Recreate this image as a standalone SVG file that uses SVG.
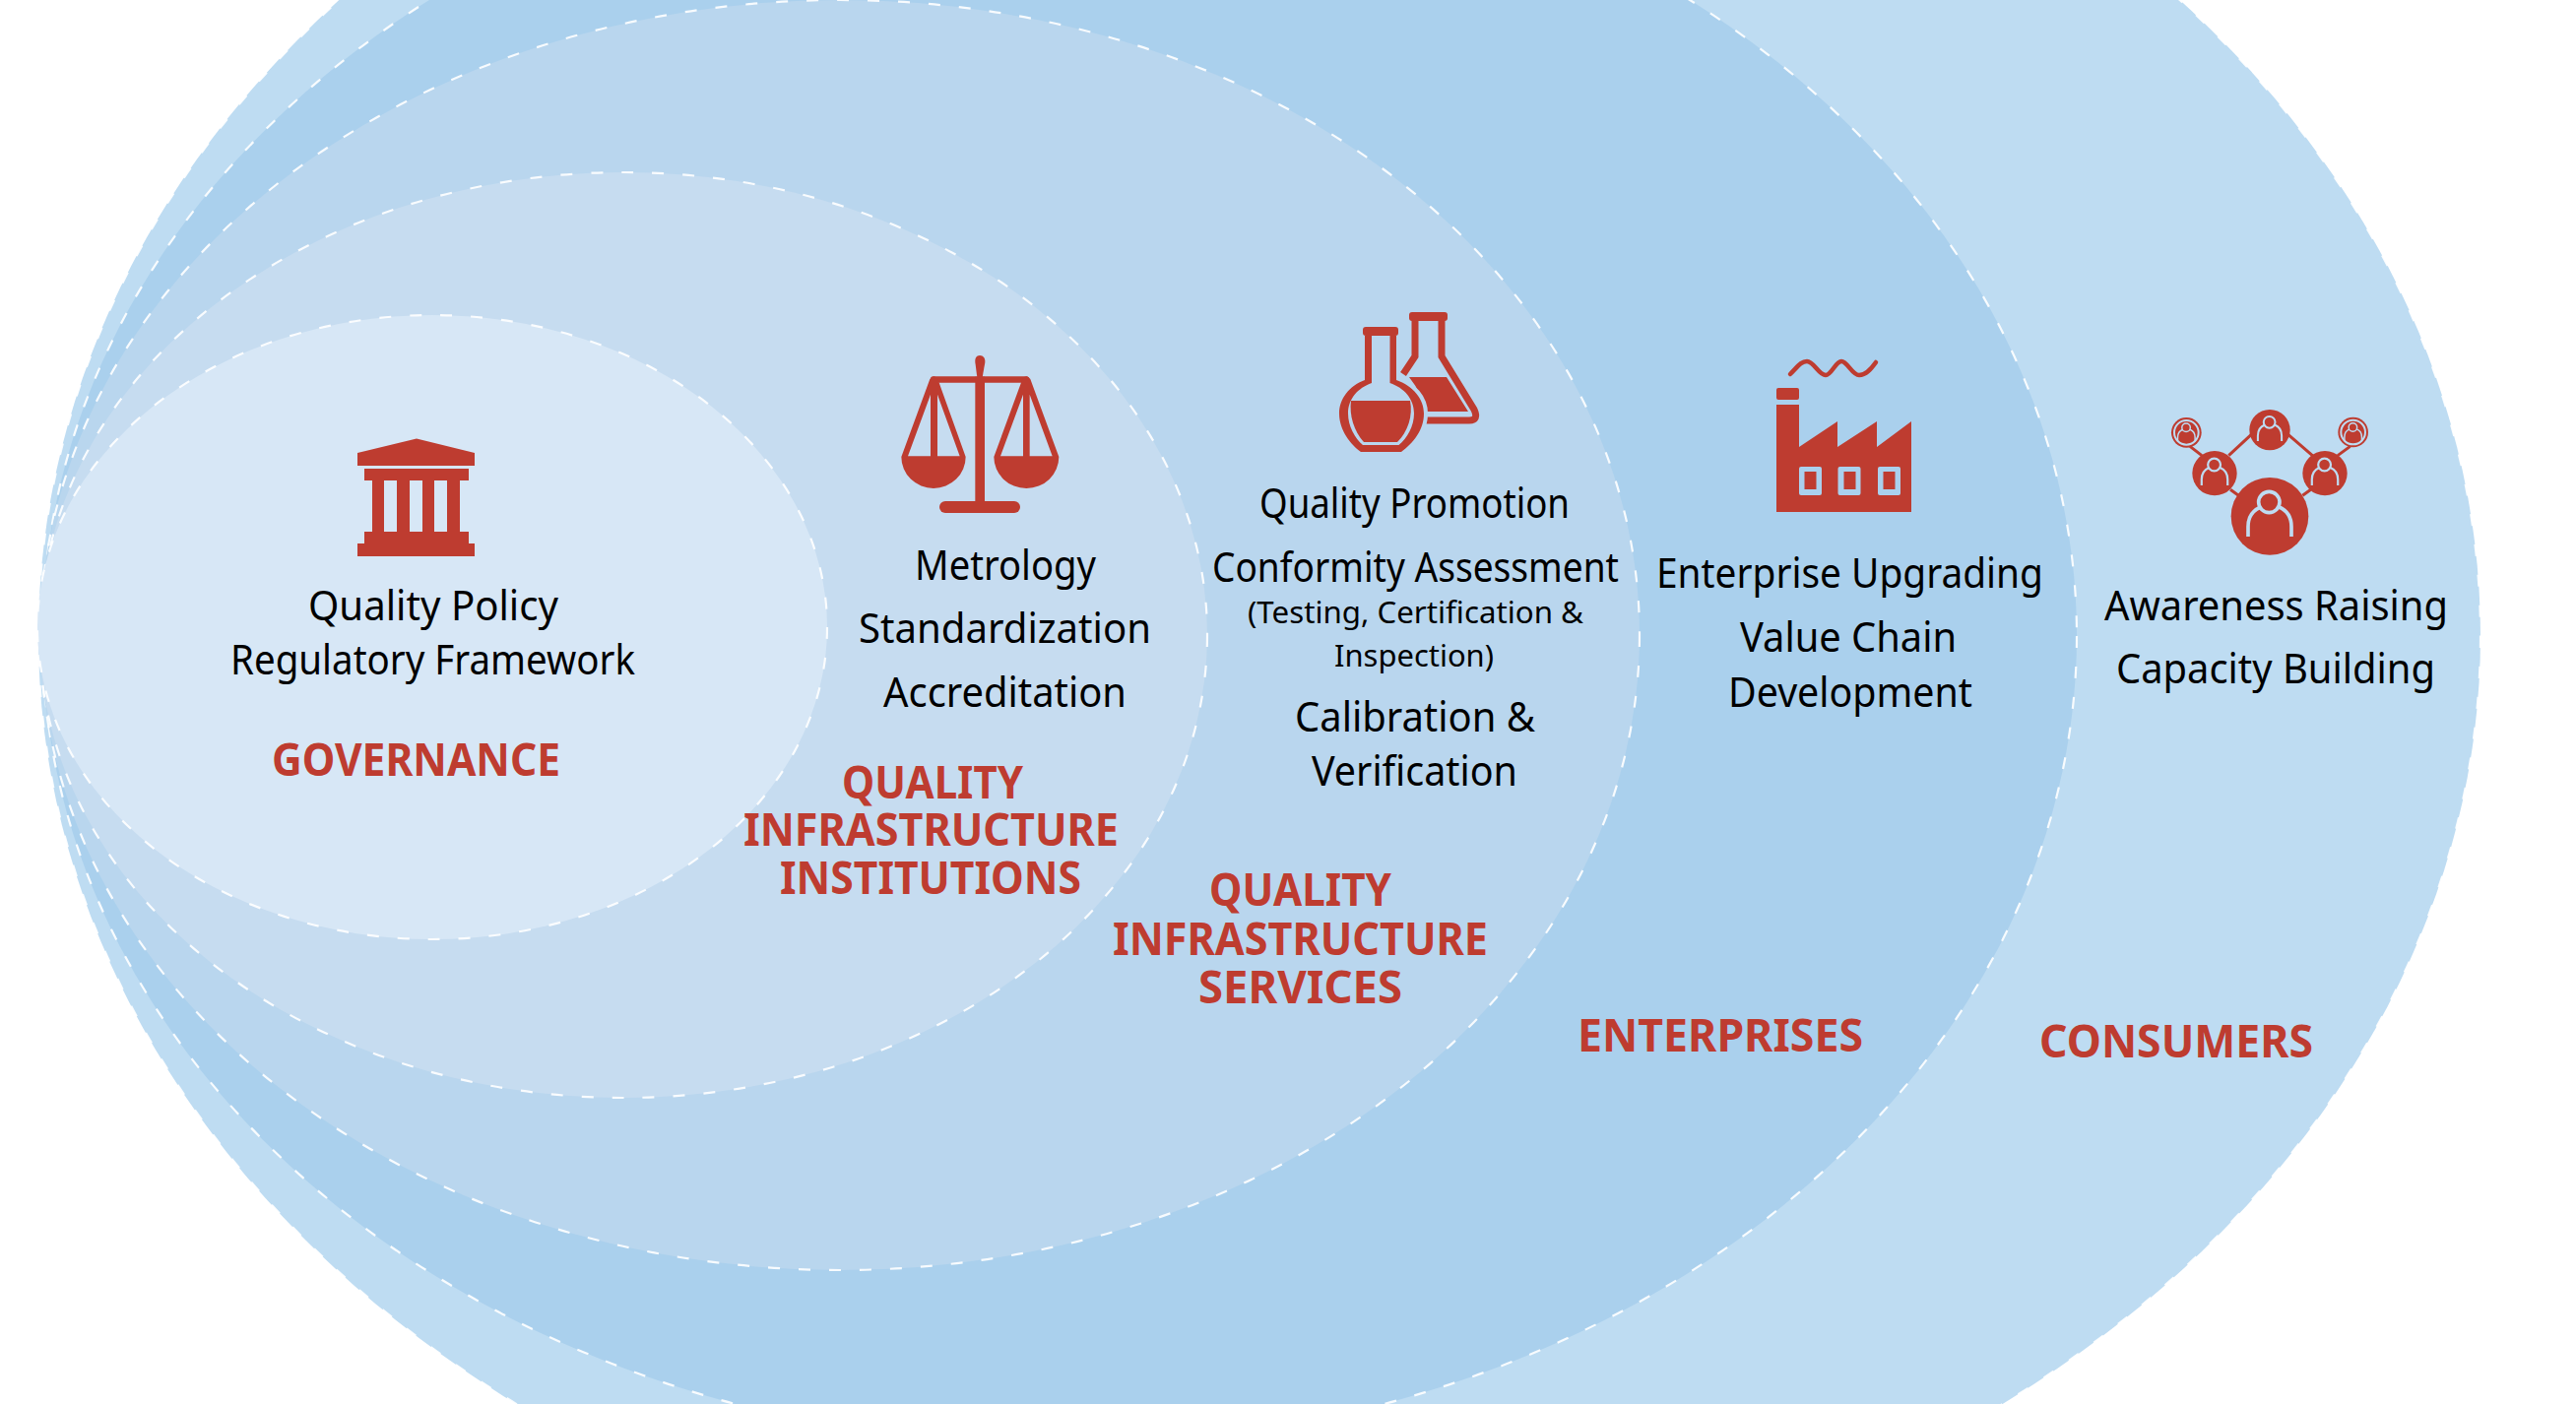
<svg xmlns="http://www.w3.org/2000/svg" xmlns:xlink="http://www.w3.org/1999/xlink" width="2616" height="1426" viewBox="0 0 2616 1426">
<style>
.e{stroke:#fff;stroke-width:2.200;stroke-dasharray:12 19;stroke-opacity:.9}
.b{font-family:"Noto Sans","Open Sans",sans-serif;font-size:41px;fill:#000}
.s{font-family:"Noto Sans","Open Sans",sans-serif;font-size:31px;fill:#000}
.r{font-family:"Noto Sans","Open Sans",sans-serif;font-size:46px;font-weight:700;fill:#be3c30}
.i{fill:#be3c30}
</style>
<defs>
<g id="person">
<path d="M-66 62V32Q-66-12-28-28M66 62V32Q66-12 28-28" fill="none" stroke="#bedcf2" stroke-width="11"/>
<circle cx="-2" cy="-43" r="32" fill="#be3c30" stroke="#bedcf2" stroke-width="11"/>
</g>
</defs>
<rect width="2616" height="1426" fill="#fff"/>

<g id="consumers">
<ellipse cx="1279" cy="646" rx="1240" ry="983" fill="#bedcf2" class="e"/>
</g>
<g id="enterprises">
<ellipse cx="1076" cy="646" rx="1033" ry="823" fill="#aad0ed" class="e"/>
</g>
<g id="services">
<ellipse cx="853" cy="645" rx="812" ry="645" fill="#b9d6ee" class="e"/>
</g>
<g id="institutions">
<ellipse cx="633" cy="645" rx="593" ry="470" fill="#c6dcf0" class="e"/>
</g>
<g id="governance">
<ellipse cx="439" cy="637" rx="401" ry="317" fill="#d7e7f6" class="e"/>
</g>

<g id="governance-content">
<g class="i">
<path d="M363 460L423 445.500L482 460V473H363Z"/>
<rect x="370" y="476" width="106" height="12"/>
<rect x="378" y="488" width="12" height="52"/>
<rect x="403" y="488" width="13" height="52"/>
<rect x="429" y="488" width="12" height="52"/>
<rect x="454" y="488" width="13" height="52"/>
<rect x="370" y="540" width="106" height="12"/>
<rect x="363" y="552" width="119" height="13"/>
</g>
<text class="b" x="313" y="630" textLength="254" lengthAdjust="spacingAndGlyphs">Quality Policy</text>
<text class="b" x="234" y="685" textLength="411" lengthAdjust="spacingAndGlyphs">Regulatory Framework</text>
<text class="r" x="276" y="788" textLength="293" lengthAdjust="spacingAndGlyphs">GOVERNANCE</text>
</g>

<g id="institutions-content">
<g class="i" transform="translate(890 340) scale(.33333)">
<path d="M315 63C326 63 332 72 331 84L323 130H307L301 84C300 72 304 63 315 63Z"/>
<rect x="165" y="127" width="300" height="19" rx="8"/>
<rect x="301" y="128" width="29" height="385"/>
<rect x="192" y="507" width="246" height="36" rx="18"/>
<path fill-rule="evenodd" d="M76 372L163 135Q168 127 175 127Q182 127 187 135L272 372A98 96 0 0 1 76 372ZM96 370L165 182V370ZM186 182L254 370H186Z"/>
<path fill-rule="evenodd" d="M358 372L445 135Q450 127 457 127Q464 127 469 135L556 372A99 96 0 0 1 358 372ZM378 370L447 182V370ZM467 182L536 370H467Z"/>
</g>
<text class="b" x="929" y="589" textLength="184" lengthAdjust="spacingAndGlyphs">Metrology</text>
<text class="b" x="872" y="653" textLength="297" lengthAdjust="spacingAndGlyphs">Standardization</text>
<text class="b" x="897" y="718" textLength="247" lengthAdjust="spacingAndGlyphs">Accreditation</text>
<text class="r" x="855" y="811" textLength="184" lengthAdjust="spacingAndGlyphs">QUALITY</text>
<text class="r" x="755" y="859" textLength="381" lengthAdjust="spacingAndGlyphs">INFRASTRUCTURE</text>
<text class="r" x="792" y="908" textLength="306" lengthAdjust="spacingAndGlyphs">INSTITUTIONS</text>
</g>

<g id="services-content">
<g>
<rect class="i" x="1431" y="317" width="39" height="9" rx="3"/>
<path d="M1425 380L1437 362V322M1464 322V362L1497 416Q1502 427 1492 427H1447" fill="none" stroke="#be3c30" stroke-width="7"/>
<path class="i" d="M1431 383H1469L1491 418H1445Q1445 400 1431 383Z"/>
<path d="M1386 386V341H1418V386C1435 392 1446 405 1446 420C1446 437 1435 450 1423 459H1382C1372 452 1360 437 1360 420C1360 405 1370 392 1386 386Z" fill="#be3c30" stroke="#b9d6ee" stroke-width="8" paint-order="stroke"/>
<rect class="i" x="1384" y="332" width="36" height="9" rx="3"/>
<path d="M1393 341H1411.500V389C1426 394 1436 405 1436 420C1436 433 1429 445 1420.500 452H1384C1376 445 1369 433 1369 420C1369 405 1379 394 1393 389Z" fill="#b9d6ee"/>
<path class="i" d="M1372 407H1432C1435 422 1430 438 1419 449H1385C1375 438 1370 422 1372 407Z"/>
</g>
<text class="b" x="1279" y="526" textLength="315" lengthAdjust="spacingAndGlyphs">Quality Promotion</text>
<text class="b" x="1231" y="591" textLength="413" lengthAdjust="spacingAndGlyphs">Conformity Assessment</text>
<text class="s" x="1267" y="633" textLength="341" lengthAdjust="spacingAndGlyphs">(Testing, Certification &amp;</text>
<text class="s" x="1355" y="677" textLength="162" lengthAdjust="spacingAndGlyphs">Inspection)</text>
<text class="b" x="1315" y="743" textLength="244" lengthAdjust="spacingAndGlyphs">Calibration &amp;</text>
<text class="b" x="1332" y="798" textLength="209" lengthAdjust="spacingAndGlyphs">Verification</text>
<text class="r" x="1228" y="920" textLength="185" lengthAdjust="spacingAndGlyphs">QUALITY</text>
<text class="r" x="1130" y="970" textLength="381" lengthAdjust="spacingAndGlyphs">INFRASTRUCTURE</text>
<text class="r" x="1217" y="1019" textLength="207" lengthAdjust="spacingAndGlyphs">SERVICES</text>
</g>

<g id="enterprises-content">
<path d="M1818 380C1826 372 1829 367 1835 367C1842 367 1847 381 1854 381C1860 381 1864 367 1870 367C1876 367 1881 381 1888 381C1895 381 1900 375 1905 368" fill="none" stroke="#be3c30" stroke-width="4.500" stroke-linecap="round"/>
<rect class="i" x="1804" y="394" width="23" height="12" rx="2"/>
<path class="i" d="M1804 411H1827V454L1866 428V454L1906 428V454L1941 428V520H1804Z"/>
<g fill="#aad0ed">
<rect x="1827" y="474" width="23" height="29" rx="2"/><rect x="1866.500" y="474" width="23" height="29" rx="2"/><rect x="1907" y="474" width="23" height="29" rx="2"/>
</g>
<g class="i">
<rect x="1832.500" y="479" width="12" height="18"/><rect x="1872.500" y="479" width="12" height="18"/><rect x="1912.500" y="479" width="12" height="18"/>
</g>
<text class="b" x="1682" y="597" textLength="393" lengthAdjust="spacingAndGlyphs">Enterprise Upgrading</text>
<text class="b" x="1767" y="662" textLength="220" lengthAdjust="spacingAndGlyphs">Value Chain</text>
<text class="b" x="1755" y="718" textLength="248" lengthAdjust="spacingAndGlyphs">Development</text>
<text class="r" x="1602" y="1068" textLength="290" lengthAdjust="spacingAndGlyphs">ENTERPRISES</text>
</g>

<g id="consumers-content">
<g transform="translate(2150 390) scale(.33333)">
<path d="M222 190L258 218M340 218L408 155M522 155L595 218M672 218L710 190M345 322L370 340M565 340L590 322" fill="none" stroke="#be3c30" stroke-width="9"/>
<circle class="i" cx="211" cy="148" r="46"/>
<circle class="i" cx="719" cy="147" r="46"/>
<circle cx="211" cy="148" r="37" fill="none" stroke="#bedcf2" stroke-width="6"/>
<circle cx="719" cy="147" r="37" fill="none" stroke="#bedcf2" stroke-width="6"/>
<circle class="i" cx="465" cy="140" r="62"/>
<circle class="i" cx="297" cy="272" r="68"/>
<circle class="i" cx="633" cy="272" r="68"/>
<circle class="i" cx="465" cy="403" r="118"/>
<use xlink:href="#person" href="#person" transform="translate(465 403)"/>
<use xlink:href="#person" href="#person" transform="translate(297 272) scale(.6)"/>
<use xlink:href="#person" href="#person" transform="translate(633 272) scale(.6)"/>
<use xlink:href="#person" href="#person" transform="translate(465 140) scale(.55)"/>
<use xlink:href="#person" href="#person" transform="translate(211 150) scale(.4)"/>
<use xlink:href="#person" href="#person" transform="translate(719 149) scale(.4)"/>
</g>
<text class="b" x="2137" y="630" textLength="349" lengthAdjust="spacingAndGlyphs">Awareness Raising</text>
<text class="b" x="2149" y="694" textLength="324" lengthAdjust="spacingAndGlyphs">Capacity Building</text>
<text class="r" x="2071" y="1074" textLength="278" lengthAdjust="spacingAndGlyphs">CONSUMERS</text>
</g>
</svg>
